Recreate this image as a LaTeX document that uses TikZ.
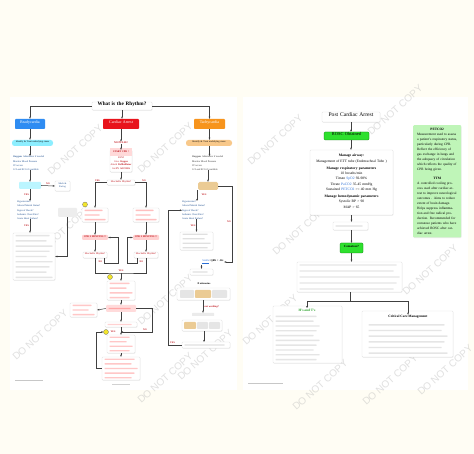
\documentclass[tikz,border=0pt]{standalone}
\usepackage{fontspec}
\setmainfont{Liberation Serif}
\newfontfamily\wmfont{Liberation Sans}
\usetikzlibrary{fit,arrows.meta,shadows}
\definecolor{bgcream}{HTML}{FFFDF4}
\definecolor{bradyblue}{HTML}{2F8CF2}
\definecolor{arrestred}{HTML}{E8141C}
\definecolor{tachyorange}{HTML}{F7941D}
\definecolor{cyanpill}{HTML}{8DEEFF}
\definecolor{orangepill}{HTML}{F8C88A}
\definecolor{tanchip}{HTML}{EBCB94}
\definecolor{roscgreen}{HTML}{2EE02E}
\definecolor{notegreen}{HTML}{BFF5B8}
\definecolor{navy}{HTML}{1D4E8F}
\definecolor{darkred}{HTML}{C0141B}
\definecolor{yel}{HTML}{F2E52A}
\definecolor{hgreen}{HTML}{1E9E1E}
\definecolor{linkblue}{HTML}{2A6FD6}
\newcommand\bx[7]{\node[#2, fit={(#3,#4) (#5,#6)}, inner sep=0pt, align=center] (#1) {#7};}
\newcommand\varr[2]{\draw[arr] (#1.south) -- (#1.south |- #2.north);}
\newcommand\bars[6]{\foreach \k in {1,...,#5}{\fill[#6, rounded corners=0.4pt] ({#1+2.5},{#2+(#4-#2)*(\k-0.5)/#5-0.7}) rectangle ({#3-2.5-mod(\k,3)*3},{#2+(#4-#2)*(\k-0.5)/#5+0.7});}}
\tikzset{
 card/.style={draw=black!12, fill=white, rounded corners=0.8pt, drop shadow={opacity=0.18, shadow xshift=0.3pt, shadow yshift=-0.6pt}},
 arr/.style={-{Stealth[length=2.2pt,width=1.8pt]}, line width=0.5pt, draw=black!75},
 ln/.style={line width=0.5pt, draw=black!75},
 lab/.style={font=\fontsize{2.4}{2.8}\selectfont\bfseries, text=darkred, inner sep=0.4pt},
 smalltxt/.style={font=\fontsize{2.5}{4.1}\selectfont, align=left, inner sep=0pt},
 circ/.style={circle, fill=yel, draw=black!55, line width=0.3pt, minimum size=5pt, inner sep=0pt},
 head/.style={rounded corners=0.8pt, text=white, font=\fontsize{4}{5}\selectfont},
 pill/.style={rounded corners=2.5pt, font=\fontsize{2.4}{3}\selectfont},
 wm/.style={font=\wmfont\fontsize{10}{10}\selectfont, text=black!30, opacity=0.4, rotate=42},
}
\begin{document}
\begin{tikzpicture}[x=1pt,y=-1pt]
\useasboundingbox (0,0) rectangle (474,454);
\fill[bgcream] (0,0) rectangle (474,454);
\fill[white] (10,97) rectangle (237,390);
\fill[white] (243,97) rectangle (468,390);

% ---------------- watermarks (behind) ----------------
\foreach \wx/\wy [count=\w] in {75/150, 165/148, 62/232, 165/300, 40/335, 205/355, 165/378, 275/140, 395/110, 300/230, 430/270, 270/320, 390/380, 445/370, 320/385}{
  \node[wm] (wm\w) at (\wx,\wy) {DO NOT COPY};
}

% ---------------- left page ----------------
\bx{rhythm}{card, font=\fontsize{5.2}{6}\selectfont\bfseries}{92}{102}{152}{110}{What is the Rhythm?}
\bx{brady}{head, fill=bradyblue}{15}{119}{45}{129}{Bradycardia}
\bx{arrest}{head, fill=arrestred}{103}{119}{139}{129}{Cardiac Arrest}
\bx{tachy}{head, fill=tachyorange}{194}{119}{225}{129}{Tachycardia}
\draw[arr] (rhythm.west) -| (brady.north);
\draw[arr] (rhythm.east) -| (tachy.north);
\draw[arr] (rhythm.south) -- (rhythm.south |- arrest.north);

% bradycardia column
\bx{bcause}{pill, fill=cyanpill}{12}{140}{53}{146}{Identify \& Treat underlying cause}
\draw[arr] (brady.south) -- (brady.south |- bcause.north);
\node[smalltxt, text=navy, anchor=north west] (bnotes) at (13,156) {\textbf{Oxygen:} Administer if needed\\Monitor Blood Pressure\\IV access\\12 Lead ECG if available};
\draw[arr] (bcause.south -| brady.south) -- (bnotes.north -| brady.south);
\bx{bperf}{fill=cyanpill!60, rounded corners=1pt}{19}{182}{41}{189}{}
\draw[arr] (bnotes.south -| brady.south) -- (bperf.north -| brady.south);
\bx{bpace}{card, font=\fontsize{2.4}{3}\selectfont, text=navy}{55}{181}{70}{191}{Meds \&\\Pacing}
\draw[arr] (bperf.east) -- (bpace.west) node[lab, midway, above=0.5pt] {NO};
\node[smalltxt, text=navy, anchor=north west] (bsym) at (17,201) {Hypotension?\\Altered Mental Status?\\Signs of Shock?\\Ischemic Chest Pain?\\Acute Heart Failure?};
\draw[arr] (bperf.south -| brady.south) -- (bsym.north -| brady.south) node[lab, midway, left=0.5pt] {YES};
\bx{bblur1}{fill=black!7, rounded corners=1pt}{58}{208}{77}{217}{}
\bx{bblur2}{card}{13}{233}{55}{280}{}
\bars{13}{233}{55}{280}{9}{black!10}
\draw[arr] (bsym.south -| brady.south) -- (bblur2.north -| brady.south) node[lab, midway, left=0.5pt] {YES};
\draw[arr] (bblur1.south) |- (bblur2.east);

% cardiac arrest column
\node[lab, font=\fontsize{2.6}{3}\selectfont\bfseries] (nopulse) at (121,143) {NO PULSE!};
\draw[arr] (arrest.south) -- (arrest.south |- nopulse.north);
\bx{startcpr}{card, font=\fontsize{2.5}{3.6}\selectfont, text=darkred}{110}{150}{132}{172}{\colorbox{red!15}{\bfseries START CPR !}\\BVM\\Give \textbf{Oxygen}\\Attach \textbf{Defibrillator}\\Get \textbf{IV ACCESS}}
\draw[arr] (nopulse.south) -- (nopulse.south |- startcpr.north);
\bx{shock1}{card, font=\fontsize{2.5}{3}\selectfont, text=darkred}{107}{180}{135}{185}{Shockable Rhythm?}
\draw[arr] (startcpr.south) -- (startcpr.south |- shock1.north);

\bx{lblur1}{card}{82}{208}{108}{222}{}
\bars{82}{208}{108}{222}{3}{red!25}
\bx{rblur1}{card}{133}{208}{159}{222}{}
\bars{133}{208}{159}{222}{3}{red!25}
\node[circ] (c1) at (85,204.5) {};
\draw[arr] (shock1.west) -| (lblur1.north) node[lab, pos=0.4, above=0.5pt] {YES};
\draw[arr] (shock1.east) -| (rblur1.north) node[lab, pos=0.4, above=0.5pt] {NO};

\bx{lcpr}{fill=red!18, rounded corners=1pt, text=darkred, font=\fontsize{2.5}{3}\selectfont\bfseries}{82}{235}{108}{240}{CPR 2 MINUTES !!}
\bx{lshock}{card, text=darkred, font=\fontsize{2.5}{3}\selectfont}{83}{252}{107}{258}{Shockable Rhythm?}
\bx{rcpr}{fill=red!18, rounded corners=1pt, text=darkred, font=\fontsize{2.5}{3}\selectfont\bfseries}{133}{235}{159}{240}{CPR 2 MINUTES !!}
\bx{rshock}{card, text=darkred, font=\fontsize{2.5}{3}\selectfont}{134}{252}{158}{258}{Shockable Rhythm?}
\varr{lblur1}{lcpr}
\varr{lcpr}{lshock}
\varr{rblur1}{rcpr}
\varr{rcpr}{rshock}
\draw[arr] ([xshift=-3pt]lshock.south east) |- (118,263) |- (lcpr.east);
\node[lab] (lno) at (100.5,262) {NO};
\draw[arr] ([xshift=3pt]rshock.south west) |- (127,263) |- (rcpr.west);
\node[lab] (rno) at (141.5,262) {NO};

\coordinate (m) at (121,273);
\draw[ln] (lshock.south) |- (m) -| (rshock.south);
\node[lab, above=0.4pt] (myes) at (m) {YES};
\bx{cblur1}{card}{107}{281}{135}{300}{}
\bars{107}{281}{135}{300}{4}{red!22}
\draw[arr] (m) -- (m |- cblur1.north);
\node[circ] (c2) at (110,277) {};
\bx{ccard}{fill=red!14, rounded corners=1pt}{106}{305}{136}{312}{}
\bars{106}{305}{136}{312}{1}{red!35}
\bx{lside}{card}{70}{303}{97}{317}{}
\bars{70}{303}{97}{317}{3}{red!22}
\draw[arr] (ccard.west) -- (lside.east);
\draw[arr] (cblur1.south) -- (cblur1.south |- ccard.north);
\bx{cbox2}{card}{105}{322}{137}{327}{}
\bars{105}{322}{137}{327}{1}{red!18}
\varr{ccard}{cbox2}
\coordinate (j1) at (121,332);
\draw[arr] (ccard.east) -- (152,308.5) |- (j1);
\node[lab] (cno) at (145,329.5) {NO};
\node[circ] (c3) at (106,332) {};
\node[lab] (cyes) at (113,332) {YES};
\bx{cbox3}{card}{107}{335}{135}{353}{}
\bars{107}{335}{135}{353}{4}{red!22}
\draw[arr] (cbox2.south -| j1) -- (cbox3.north -| j1);
\bx{cbox4}{card}{102}{357}{140}{380}{}
\bars{102}{357}{140}{380}{5}{red!22}
\draw[arr] (cbox3.south -| j1) -- (cbox4.north -| j1);
\draw[arr] (cbox4.west) -- (96,368.5) |- (c3.west);
\fill[black!18] (112,384) rectangle (130,385);

% tachycardia column
\bx{tcause}{pill, fill=orangepill}{186}{140}{232}{146}{Identify \& Treat underlying cause}
\draw[arr] (tachy.south) -- (tachy.south |- tcause.north);
\node[smalltxt, text=black!80, anchor=north west] (tnotes) at (192,156) {\textbf{Oxygen:} Administer if needed\\Monitor Blood Pressure\\IV access\\12 Lead ECG if available};
\draw[arr] (tcause.south -| tachy.south) -- (tnotes.north -| tachy.south);
\bx{tblur1}{fill=tanchip, rounded corners=1.5pt}{198}{182}{218}{190}{}
\draw[arr] (tnotes.south -| tblur1.north) -- (tblur1.north);
\node[smalltxt, text=navy, anchor=north west] (tsym) at (182,201) {Hypotension?\\Altered Mental Status?\\Signs of Shock?\\Ischemic Chest Pain?\\Acute Heart Failure?};
\draw[arr] (tblur1.south -| 197,0) -- (197,201);
\node[lab] (tyes1) at (204,195) {YES};
\bx{tblur2}{card}{180}{232}{213}{250}{}
\bars{180}{232}{213}{250}{4}{black!12}
\draw[arr] (tsym.south -| tblur2.north) -- (tblur2.north) node[lab, midway, left=0.5pt] {YES};
\node[font=\fontsize{2.7}{3}\selectfont, inner sep=0.5pt] (tstable) at (213,262) {\textcolor{linkblue}{\underline{Stable}}:\ \textbf{QRS < .12s}};
\draw[arr] (tblur1.east) -- (232,186) |- (tstable.east);
\node[lab] (tno) at (229,222) {NO};
\bx{tbox3}{card}{190}{269}{213}{275}{}
\bars{190}{269}{213}{275}{1}{black!12}
\draw[arr] (tstable.south -| tbox3.north) -- (tbox3.north);
\node[font=\fontsize{2.5}{3}\selectfont\bfseries, inner sep=0.3pt] (tadeno) at (204,284) {If adenosine};
\bx{tbox4}{card}{177}{288}{230}{300}{}
\fill[black!10, rounded corners=0.8pt] (180,290) rectangle (194,298);
\fill[tanchip, rounded corners=0.8pt] (195,290) rectangle (211,298);
\fill[black!10, rounded corners=0.8pt] (212,290) rectangle (227,298);
\bx{tcv}{fill=black!8, rounded corners=0.5pt}{192}{313}{214}{316}{}
\draw[arr] (tbox4.south -| tcv.north) -- (tcv.north) node[lab, midway, right=1pt, font=\fontsize{2.6}{3}\selectfont\itshape\bfseries] {not working?};
\bx{tbox5}{card}{182}{320}{222}{331}{}
\fill[tanchip, rounded corners=0.8pt] (184,322) rectangle (196,329);
\fill[black!10, rounded corners=0.8pt] (197,322) rectangle (208,329);
\fill[black!10, rounded corners=0.8pt] (209,322) rectangle (220,329);
\bx{tbox6}{card}{182}{342}{230}{348}{}
\bars{182}{342}{230}{348}{1}{black!12}
\draw[arr] (tbox5.south -| 204,0) -- (204,342);
\draw[arr] (tbox6.west) -- (168,345) |- (tsym.west);
\node[lab] (tyes3) at (172.5,342.5) {YES};

% footer
\fill[black!22] (15,380) rectangle (43,381.3);

% ---------------- right page ----------------
\bx{post}{card, font=\fontsize{5.6}{6.5}\selectfont}{322}{112}{380}{122}{Post Cardiac Arrest}
\bx{rosc}{fill=roscgreen, draw=green!45!black, line width=0.3pt, rounded corners=1pt, font=\fontsize{4.4}{5}\selectfont}{324}{132}{369}{140}{ROSC Obtained}
\draw[arr] (post.south) -- (post.south |- rosc.north);
\bx{manage}{card, font=\fontsize{3.6}{5.1}\selectfont}{310}{150}{393}{215}{\textbf{Manage airway:}\\Management of ETT tube (Endotracheal Tube )\\[2.6pt]\textbf{Manage respiratory parameters}\\10 breaths/min\\Titrate \textcolor{linkblue}{SpO2} 92-98\%\\Titrate \textcolor{linkblue}{PaCO2} 35-45 mmHg\\Sustained \textcolor{linkblue}{PETCO2} >= 40 mm Hg\\[2.6pt]\textbf{Manage hemodynamic parameters}\\Systolic BP > 90\\MAP > 65}
\draw[arr] (rosc.south -| post.south) -- (manage.north -| post.south);
\node[fill=notegreen, rounded corners=1pt, text width=40pt, inner xsep=4pt, inner ysep=3pt, anchor=north west, align=left, font=\fontsize{3.4}{5.0}\selectfont, drop shadow={opacity=0.15, shadow xshift=0.3pt, shadow yshift=-0.6pt}] (note) at (413,125) {\makebox[40pt]{\textbf{PETCO2}}\\Measurement used to assess a patient's respiratory status, particularly during CPR. Reflect the efficiency of gas exchange in lungs and the adequacy of circulation which reflects the quality of CPR being given.\\[4pt]\makebox[40pt]{\textbf{TTM}}\\A controlled cooling process used after cardiac arrest to improve neurological outcomes . Aims to reduce extent of brain damage. Helps suppress inflammation and free radical production. Recommended for comatose patients who have achieved ROSC after cardiac arrest.};
\bx{mblur}{card}{333}{222}{368}{230}{}
\bars{333}{222}{368}{230}{1}{black!12}
\draw[arr] (manage.south) -- (manage.south |- mblur.north);
\bx{coma}{fill=roscgreen, draw=green!45!black, line width=0.3pt, rounded corners=1pt, font=\fontsize{3.2}{4}\selectfont\bfseries}{340}{243}{363}{253}{Comatose?}
\draw[arr] (mblur.south -| coma.north) -- (coma.north);
\bx{cblurw}{card}{297}{262}{402}{292}{}
\bars{297}{262}{402}{292}{5}{black!10}
\draw[arr] (coma.south) -- (coma.south |- cblurw.north);
\coordinate (sp) at (350,301);
\bx{hstbox}{card}{273}{306}{342}{363}{}
\bars{273}{314}{322}{362}{10}{black!10}
\node[font=\fontsize{3.4}{4}\selectfont\bfseries, text=hgreen, inner sep=0.5pt] (hstlab) at (307,310) {H's and T's};
\bx{ccmbox}{card}{362}{311}{453}{357}{}
\bars{366}{322}{450}{356}{6}{black!10}
\node[font=\fontsize{3.4}{4}\selectfont\bfseries, inner sep=0.5pt] (ccmlab) at (408,317) {Critical Care Management};
\draw[ln] (cblurw.south -| sp) -- (sp);
\draw[arr] (sp) -| (hstlab.north);
\draw[arr] (sp) -| (ccmlab.north);
\fill[black!22] (248,383) rectangle (283,384.3);
\end{tikzpicture}
\end{document}
